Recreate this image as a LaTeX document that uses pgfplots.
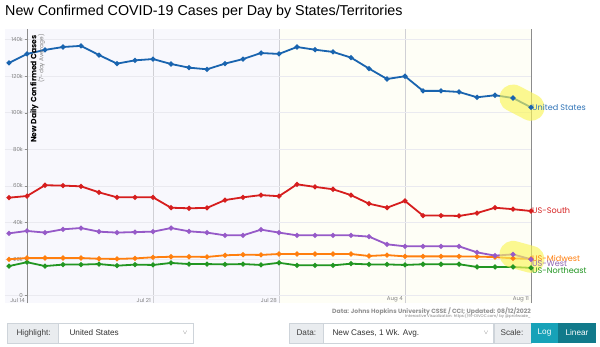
\documentclass[border=0pt]{standalone}
\usepackage{pgfplots}
\pgfplotsset{compat=1.18}
\usepackage{pgfplotstable}
\usepackage{fontspec}
\setmainfont{Liberation Sans}
\newfontfamily\pop{Poppins}
\definecolor{cUS}{RGB}{25,100,175}
\definecolor{cSouth}{RGB}{214,30,30}
\definecolor{cWest}{RGB}{150,90,200}
\definecolor{cMid}{RGB}{255,127,14}
\definecolor{cNE}{RGB}{34,150,34}
\definecolor{hl}{RGB}{250,245,90}
\definecolor{bgl}{RGB}{248,248,253}
\definecolor{bgy}{RGB}{254,254,246}
\definecolor{gridh}{RGB}{234,234,240}
\definecolor{gridv}{RGB}{208,208,213}
\definecolor{axc}{RGB}{140,140,140}
\definecolor{tickc}{RGB}{130,130,130}
\definecolor{boxf}{RGB}{233,236,239}
\definecolor{boxd}{RGB}{206,212,218}
\definecolor{logc}{RGB}{23,162,184}
\definecolor{linc}{RGB}{17,122,139}

\pgfplotstableread{
d us south west midwest northeast
-1 127.3 53.6 34.1 19.9 16.2
0 132.2 54.5 35.4 20.6 18.3
1 134.4 60.4 34.5 20.6 16.2
2 136.0 60.2 36.3 20.6 17.0
3 136.6 59.8 37.0 20.6 17.0
4 131.6 56.5 35.0 20.2 17.3
5 126.9 53.8 34.5 20.1 16.4
6 128.7 53.8 34.8 20.4 17.0
7 129.4 53.8 35.0 21.0 16.8
8 126.7 48.1 37.0 21.3 17.9
9 124.7 47.8 35.2 21.3 17.3
10 123.8 48.0 34.5 21.2 17.3
11 126.9 52.3 33.0 22.1 17.1
12 129.4 53.8 33.0 22.4 17.3
13 132.7 55.0 36.1 22.3 16.8
14 132.2 54.4 34.5 22.8 18.0
15 136.0 60.9 33.0 22.8 16.6
16 134.5 59.5 33.0 22.8 16.6
17 133.3 58.2 33.0 22.8 16.6
18 130.2 55.0 33.0 22.8 17.5
19 124.2 50.3 32.3 21.7 17.1
20 118.5 48.1 28.1 22.2 17.1
21 120.0 51.8 27.0 21.5 16.8
22 112.0 43.8 27.0 21.5 17.2
23 112.0 43.8 27.0 21.5 17.2
24 111.4 43.6 27.0 21.5 17.2
25 108.5 45.2 23.7 21.4 15.7
26 109.6 48.1 21.9 21.1 15.7
27 108.1 47.3 22.6 20.4 15.7
28 103.0 46.3 19.9 20.1 15.2
}\datatable

\begin{document}
\begin{tikzpicture}
\path[use as bounding box] (0pt,0pt) rectangle (600pt,346pt);
\fill[white] (0pt,0pt) rectangle (600pt,346pt);
\fill[bgl] (4.5pt,43pt) rectangle (279pt,317.3pt);
\fill[bgy] (279pt,43pt) rectangle (531pt,317.3pt);
\node[anchor=west, inner sep=0pt, font=\fontsize{14.3}{16}\selectfont] at (5pt,334pt) {New Confirmed COVID-19 Cases per Day by States/Territories};

\begin{axis}[
  at={(4.5pt,43pt)}, anchor=south west,
  scale only axis, width=526.5pt, height=274.3pt,
  xmin=-1.25, xmax=28, ymin=-4, ymax=146,
  clip=false,
  axis x line*=bottom, axis y line*=middle,
  x axis line style={draw=none},
  y axis line style={draw=axc, line width=0.9pt},
  xtick={0,7,14,21,28},
  xticklabels={Jul 14,Jul 21,Jul 28,Aug 4,Aug 11},
  ytick={0,20,40,60,80,100,120,140},
  yticklabels={0,20k,40k,60k,80k,100k,120k,140k},
  xmajorgrids, ymajorgrids,
  x grid style={draw=gridv, line width=0.7pt},
  y grid style={draw=gridh, line width=0.7pt},
  xtick style={draw=none},
  ytick style={draw=axc, line width=0.5pt},
  tick align=outside, major tick length=2.5pt,
  xticklabel style={anchor=south east, yshift=2pt, xshift=-1pt, inner sep=1pt, font=\pop\fontsize{5.5}{6}\selectfont, text=tickc},
  yticklabel style={font=\pop\fontsize{5.5}{6}\selectfont, text=tickc, inner sep=1.5pt},
]
\draw[axc, line width=0.9pt] (axis cs:28,-4) -- (axis cs:28,146);

\addplot[cNE, line width=1.8pt, mark=*, mark size=1.5pt] table[x=d,y=northeast]{\datatable};
\addplot[cMid, line width=1.8pt, mark=*, mark size=1.5pt] table[x=d,y=midwest]{\datatable};
\addplot[cWest, line width=1.8pt, mark=*, mark size=1.5pt] table[x=d,y=west]{\datatable};
\addplot[cSouth, line width=1.8pt, mark=*, mark size=1.5pt] table[x=d,y=south]{\datatable};
\addplot[cUS, line width=1.8pt, mark=*, mark size=1.5pt] table[x=d,y=us]{\datatable};

\addplot[hl, no marks, opacity=0.65, line width=27pt, line cap=round, line join=round] coordinates {(27,108.1) (28,103.0)};
\addplot[hl, no marks, opacity=0.65, line width=27pt, line cap=round, line join=round] coordinates {(27,22.6) (28,19.9)};

\node[anchor=west, inner sep=1pt, text=cUS!90!white, font=\pop\fontsize{8.1}{9}\selectfont] at (axis cs:28,103) {United States};
\node[anchor=west, inner sep=1pt, text=cSouth, font=\pop\fontsize{8.1}{9}\selectfont] at (axis cs:28,46.3) {US-South};
\node[anchor=west, inner sep=1pt, text=cMid, font=\pop\fontsize{8.1}{9}\selectfont] at (axis cs:28,20.4) {US-Midwest};
\node[anchor=west, inner sep=1pt, text=cWest!70!gray, font=\pop\fontsize{8.1}{9}\selectfont] at (axis cs:28,17.3) {US-West};
\node[anchor=west, inner sep=1pt, text=cNE, font=\pop\fontsize{8.1}{9}\selectfont] at (axis cs:28,13.5) {US-Northeast};

\node[rotate=90, anchor=north east, inner sep=0pt, font=\pop\bfseries\fontsize{7.6}{8}\selectfont] at (axis cs:0.17,142.6) {New Daily Confirmed Cases};
\node[rotate=90, anchor=north east, inner sep=0pt, text=gray, font=\pop\fontsize{5.8}{6}\selectfont] at (axis cs:0.6,143.1) {(7-day Average)};
\end{axis}

\node[anchor=east, inner sep=0pt, text=gray!85, font=\pop\bfseries\fontsize{6.1}{7}\selectfont] at (531pt,35pt) {Data: Johns Hopkins University CSSE / CCI; Updated: 08/12/2022};
\node[anchor=east, inner sep=0pt, text=gray, font=\pop\fontsize{3.9}{4}\selectfont] at (531pt,30pt) {Interactive Visualization: https://91-DIVOC.com/ by @profwade\_};

\begin{scope}[x=1pt,y=1pt,font=\fontsize{8.2}{9}\selectfont]
\filldraw[fill=boxf, draw=boxd, line width=0.5pt] (7,3) rectangle (58,23);
\node[anchor=west, text=black!75] at (13,13) {Highlight:};
\filldraw[fill=white, draw=boxd, line width=0.5pt] (58,3) rectangle (193,23);
\node[anchor=west, text=black!80] at (66,13) {United States};
\node[text=gray] at (185,13) {\fontsize{6}{6}\selectfont $\vee$};
\filldraw[fill=boxf, draw=boxd, line width=0.5pt] (289,3) rectangle (323,23);
\node[anchor=west, text=black!75] at (293,13) {Data:};
\filldraw[fill=white, draw=boxd, line width=0.5pt] (323,3) rectangle (493,23);
\node[anchor=west, text=black!80] at (329,13) {New Cases, 1 Wk. Avg.};
\node[text=gray] at (486,13) {\fontsize{6}{6}\selectfont $\vee$};
\filldraw[fill=boxf, draw=boxd, line width=0.5pt] (494,3) rectangle (531,23);
\node[anchor=west, text=black!75] at (497,13) {Scale:};
\fill[logc] (531,3) rectangle (558,23);
\node[text=white] at (544.5,13) {Log};
\fill[linc] (558,3) rectangle (596,23);
\node[text=white] at (577,13) {Linear};
\end{scope}
\end{tikzpicture}
\end{document}
